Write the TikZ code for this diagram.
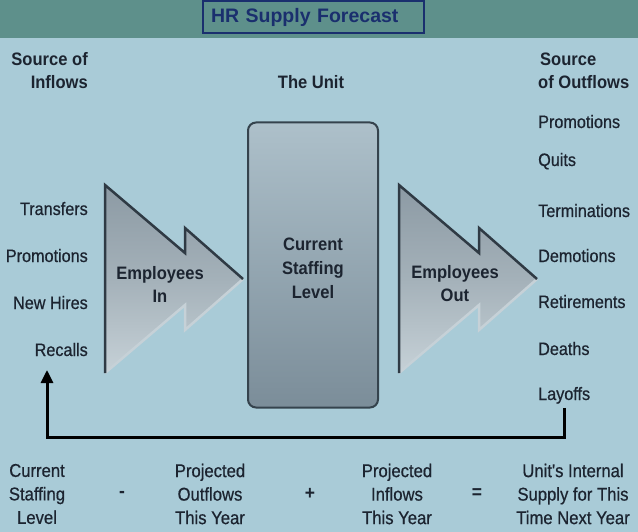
\documentclass[tikz,border=0pt]{standalone}
\usepackage{fontspec}
\setmainfont{Liberation Sans}
\newfontfamily\cond[FakeStretch=0.92]{Liberation Sans}
\newfontfamily\condmed[FakeStretch=0.90,FakeBold=0.6]{Liberation Sans}
\usetikzlibrary{arrows.meta}
\definecolor{bgblue}{HTML}{A9CBD7}
\definecolor{band}{HTML}{5E908B}
\definecolor{navy}{HTML}{1A2F6E}
\definecolor{ink}{HTML}{1C2430}
\definecolor{chevdark}{HTML}{2F3A44}
\definecolor{chevlight}{HTML}{C6D1D7}
\definecolor{chevtopc}{HTML}{8C9AA4}
\definecolor{chevmidc}{HTML}{A4B1B9}
\definecolor{boxline}{HTML}{35434D}
\definecolor{boxtop}{HTML}{ADC0CA}
\definecolor{boxmid}{HTML}{A2B4BE}
\definecolor{boxbot}{HTML}{7B8D99}
\tikzset{
  item/.style={inner sep=0pt, text=ink, font=\condmed\fontsize{18}{23}\selectfont},
  head/.style={inner sep=0pt, text=ink, font=\cond\bfseries\fontsize{18}{23}\selectfont},
  eqtext/.style={inner sep=0pt, text=ink, align=center, font=\condmed\fontsize{18.5}{23.5}\selectfont},
  opsign/.style={inner sep=0pt, text=ink, font=\cond\bfseries\fontsize{19}{23}\selectfont},
  chevfill/.style={top color=chevtopc, bottom color=chevlight, middle color=chevmidc},
  chevtop/.style={draw=chevdark, line width=2.5pt, line join=miter},
  chevbot/.style={draw=chevlight, line width=2.5pt, line join=miter},
  unitbox/.style={draw=boxline, line width=2pt, rounded corners=8pt,
    top color=boxtop, middle color=boxmid, bottom color=boxbot,
    minimum width=130pt, minimum height=285pt, inner sep=0pt},
  feedback/.style={line width=3pt, draw=black, -{Triangle[length=13pt,width=12pt]}},
}
\begin{document}
\begin{tikzpicture}[x=1pt,y=-1pt]
\useasboundingbox (0,0) rectangle (638,532);
\fill[bgblue] (0,0) rectangle (638,532);
\fill[band] (0,0) rectangle (638,38);
% title
\node[draw=navy, line width=2pt, fill=band, minimum width=221pt, minimum height=32pt,
  inner xsep=8pt, text width=205pt, align=left, text=navy,
  font=\bfseries\fontsize{19.5}{21}\selectfont] (title) at (313.5,17) {HR Supply Forecast};

% headers
\node[head, align=right, anchor=east] (srcin) at (88,71) {Source of\\Inflows};
\node[head, anchor=base] (unitlbl) at (311,89) {The Unit};
\node[head, align=left, anchor=west] (srcout) at (538,71) {\hspace*{2pt}Source\\of Outflows};

% inflow list
\node[item, anchor=base east] (transfers) at (88,215) {Transfers};
\node[item, anchor=base east] (promin) at (88,262) {Promotions};
\node[item, anchor=base east] (newhires) at (88,309) {New Hires};
\node[item, anchor=base east] (recalls) at (88,356) {Recalls};

% outflow list
\node[item, anchor=base west] (promout) at (538,128) {Promotions};
\node[item, anchor=base west] (quits) at (538,166) {Quits};
\node[item, anchor=base west] (term) at (538,217) {Terminations};
\node[item, anchor=base west] (demo) at (538,262) {Demotions};
\node[item, anchor=base west] (retire) at (538,308) {Retirements};
\node[item, anchor=base west] (deaths) at (538,355) {Deaths};
\node[item, anchor=base west] (layoffs) at (538,400) {Layoffs};

% left chevron
\fill[chevfill] (105,185) -- (185,253) -- (185,228) -- (243,279) -- (185,330) -- (185,305) -- (105,373) -- cycle;
\draw[chevbot] (243,279) -- (185,330) -- (185,305) -- (105,373);
\draw[chevtop] (105,373) -- (105,185) -- (185,253) -- (185,228) -- (243,279);
\node[head, align=center] (empin) at (160,284) {Employees\\In};

% right chevron
\begin{scope}[xshift=294pt]
\fill[chevfill] (105,185) -- (185,253) -- (185,228) -- (243,279) -- (185,330) -- (185,305) -- (105,373) -- cycle;
\draw[chevbot] (243,279) -- (185,330) -- (185,305) -- (105,373);
\draw[chevtop] (105,373) -- (105,185) -- (185,253) -- (185,228) -- (243,279);
\end{scope}
\node[head, align=center] (empout) at (455,284) {Employees\\Out};

% unit box
\node[unitbox] (box) at (313,265) {};
\node[head, align=center, font=\cond\bfseries\fontsize{18}{24}\selectfont] (boxtext) at (313,268) {Current\\Staffing\\Level};

% feedback loop
\coordinate (fbl) at (47,437);
\coordinate (fbtip) at (47,370);
\draw[feedback] ([yshift=-4pt]layoffs.south) |- (fbl) -- (fbtip);

% equation
\node[eqtext] (eq1) at (37,494) {Current\\Staffing\\Level};
\node[opsign] (minus) at (122,494) {-};
\node[eqtext] (eq2) at (210,494) {Projected\\Outflows\\This Year};
\node[opsign] (plus) at (310,494) {+};
\node[eqtext] (eq3) at (397,494) {Projected\\Inflows\\This Year};
\node[opsign] (equals) at (477,494) {=};
\node[eqtext] (eq4) at (573,494) {Unit's Internal\\Supply for This\\Time Next Year};
\end{tikzpicture}
\end{document}
